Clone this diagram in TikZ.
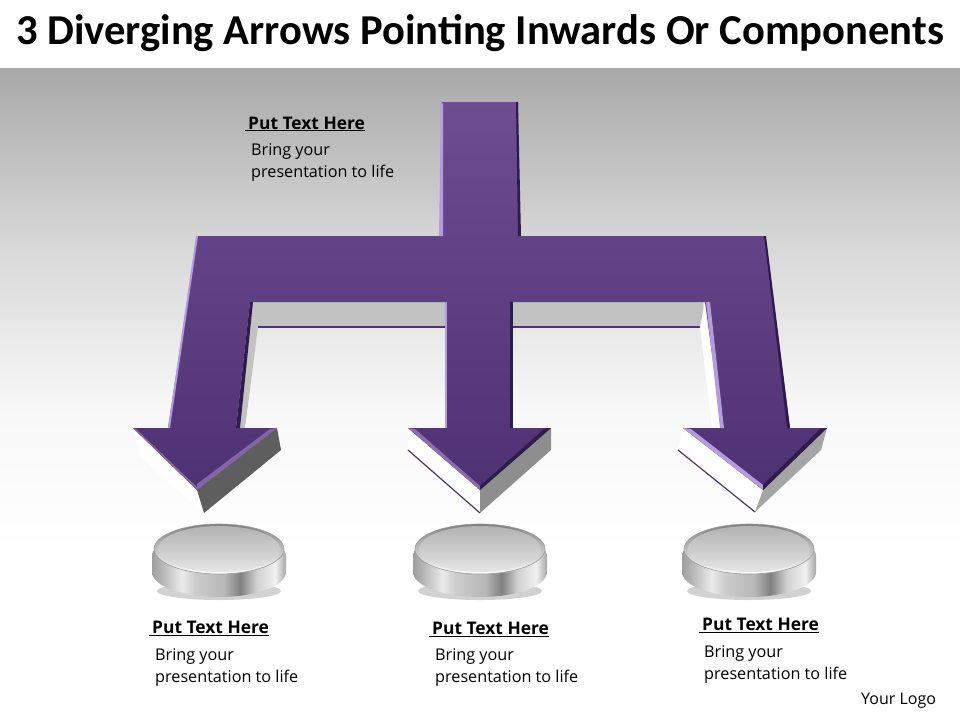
\documentclass[tikz,border=0pt]{standalone}
\usepackage{fontspec}
\setmainfont{Carlito}
\newfontfamily\labelfont{Open Sans}
\definecolor{arrowtop}{HTML}{6E4D92}
\definecolor{arrowlow}{HTML}{4E3173}
\definecolor{edgelight}{HTML}{B49BE0}
\definecolor{edgedark}{HTML}{2E1C4E}
\definecolor{sidedark}{HTML}{5E5E5E}
\definecolor{sidegrey}{HTML}{C2C2C2}
\pgfdeclareverticalshading{slideback}{100bp}{
  color(0bp)=(white); color(38bp)=(white); color(49bp)=(white!97!black);
  color(62bp)=(white!84!black); color(75bp)=(white!66!black); color(100bp)=(white!66!black)}
\pgfdeclarehorizontalshading{discside}{100bp}{
  color(0bp)=(white!62!black); color(25bp)=(white!62!black); color(29bp)=(white!72!black);
  color(36bp)=(white!92!black); color(41bp)=(white!80!black);
  color(52bp)=(white!72!black); color(58bp)=(white!50!black);
  color(64bp)=(white!82!black); color(71bp)=(white!94!black);
  color(75bp)=(white!65!black); color(100bp)=(white!65!black)}
\tikzset{
  headtext/.style={anchor=west,inner sep=0pt,font=\labelfont\bfseries\fontsize{17.4}{20}\selectfont},
  bodytext/.style={anchor=north west,inner sep=0pt,align=left,font=\labelfont\fontsize{16.2}{22.7}\selectfont},
  whiteside/.style={fill=white},
  greyside/.style={fill=sidegrey},
  darkside/.style={fill=sidedark},
  lightedge/.style={fill=edgelight},
  darkedge/.style={fill=edgedark},
  darkline/.style={draw=arrowlow,line width=1.2pt},
  discrim/.style={top color=white!50!black,bottom color=white,draw=white!60!black,line width=.6pt},
  disctop/.style={top color=white!70!black,bottom color=white!90!black},
  discshadow/.style={fill=white!82!black},
}
\begin{document}
\begin{tikzpicture}[x=1pt,y=-1pt]
  \useasboundingbox (0,0) rectangle (960,720);
  \fill[white] (0,0) rectangle (960,720);
  \shade[shading=slideback] (0,68) rectangle (960,720);
  \node (title) at (480,33) {\bfseries\fontsize{42.6}{48}\selectfont 3 Diverging Arrows Pointing Inwards Or Components};

  % grey underside of the bar
  \fill[greyside] (250,302) -- (703,302) -- (703,327) -- (258,327) -- cycle;
  \fill[greyside] (250,302) -- (258,327) -- (245,428) -- (236,428) -- cycle;
  \fill[whiteside] (705,302) -- (700,327) -- (712,428) -- (722,428) -- cycle;
  \draw[darkline] (258,327) -- (446,327);
  \draw[darkline] (512,327) -- (700,327);

  % sides of the heads
  \fill[whiteside] (133,428) -- (197,490) -- (204,513) -- (140,457) -- cycle;
  \fill[darkside] (277,428) -- (281,450) -- (204,513) -- (197,490) -- cycle;
  \fill[whiteside] (408,428) -- (480,490) -- (480,513) -- (408,450) -- cycle;
  \fill[sidedark!70!white] (551,428) -- (551,450) -- (480,513) -- (480,490) -- cycle;
  \draw[darkline] (408,450) -- (480,513);
  \fill[whiteside] (683,428) -- (763,490) -- (755,512) -- (678,450) -- cycle;
  \fill[sidegrey!85!black] (827,428) -- (821,450) -- (755,512) -- (763,490) -- cycle;
  \draw[darkline] (678,450) -- (755,512);

  % purple face
  \shade[top color=arrowtop,bottom color=arrowlow]
    (441,102) -- (518,102) -- (518,236) -- (765,236) -- (790,428) -- (827,428) -- (763,490)
    -- (683,428) -- (722,428) -- (705,302) -- (512,302) -- (512,428) -- (551,428)
    -- (480,490) -- (408,428) -- (446,428) -- (446,302) -- (250,302) -- (236,428)
    -- (277,428) -- (197,490) -- (133,428) -- (168,428) -- (197,236) -- (441,236) -- cycle;

  % bevel edges
  \fill[lightedge] (441,102) -- (443,104) -- (443,236) -- (439,236) -- cycle;
  \fill[darkedge] (516,102) -- (518,102) -- (521,236) -- (518,236) -- cycle;
  \fill[lightedge] (196,236) -- (198,236) -- (170,428) -- (168,428) -- cycle;
  \fill[darkedge] (250,302) -- (253,302) -- (240,428) -- (236,428) -- cycle;
  \fill[lightedge] (445,302) -- (447,302) -- (447,428) -- (445,428) -- cycle;
  \fill[darkedge] (510,302) -- (513,302) -- (513,428) -- (510,428) -- cycle;
  \fill[lightedge] (706,302) -- (710,302) -- (724,428) -- (720,428) -- cycle;
  \fill[darkedge] (764,236) -- (766,236) -- (790,428) -- (787,428) -- cycle;
  \fill[arrowtop!70!edgelight] (136,429) -- (197,487) -- (197,490) -- (133,428) -- cycle;
  \fill[arrowtop!70!edgelight] (277,428) -- (270,429) -- (197,484) -- (197,490) -- cycle;
  \fill[arrowtop!60!edgelight] (408,428) -- (480,490) -- (480,486) -- (415,429) -- cycle;
  \fill[edgedark] (551,428) -- (480,490) -- (480,486) -- (544,429) -- cycle;
  \fill[lightedge] (683,428) -- (763,490) -- (763,485) -- (691,429) -- cycle;
  \fill[edgedark] (827,428) -- (763,490) -- (763,485) -- (820,429) -- cycle;

  % discs
  \fill[discshadow] (219,591) ellipse (62 and 9);
  \shade[shading=discside] (152,556) -- (152,572) arc (180:0:67 and 25) -- (286,556) arc (0:-180:67 and 24) -- cycle;
  \shade[discrim] (219,549) ellipse (65 and 25);
  \shade[disctop] (219,549) ellipse (61 and 23);
  \fill[discshadow] (480,591) ellipse (62 and 9);
  \shade[shading=discside] (413,556) -- (413,572) arc (180:0:67 and 25) -- (547,556) arc (0:-180:67 and 24) -- cycle;
  \shade[discrim] (480,549) ellipse (65 and 25);
  \shade[disctop] (480,549) ellipse (61 and 23);
  \fill[discshadow] (749,591) ellipse (62 and 9);
  \shade[shading=discside] (682,556) -- (682,572) arc (180:0:67 and 25) -- (816,556) arc (0:-180:67 and 24) -- cycle;
  \shade[discrim] (749,549) ellipse (65 and 25);
  \shade[disctop] (749,549) ellipse (61 and 23);

  % texts
  \node[headtext] (headA) at (245,124) {\underline{\hspace{3pt}Put Text Here}};
  \node[bodytext] (bodyA) at (251,143) {Bring your\\presentation to life};
  \node[headtext] (headB) at (149,628) {\underline{\hspace{3pt}Put Text Here}};
  \node[bodytext] (bodyB) at (155,648) {Bring your\\presentation to life};
  \node[headtext] (headC) at (429,629) {\underline{\hspace{3pt}Put Text Here}};
  \node[bodytext] (bodyC) at (435,648) {Bring your\\presentation to life};
  \node[headtext] (headD) at (699,625) {\underline{\hspace{3pt}Put Text Here}};
  \node[bodytext] (bodyD) at (704,645) {Bring your\\presentation to life};
  \node[anchor=west,inner sep=0pt,font=\labelfont\fontsize{16}{18}\selectfont] (logo) at (861,701) {Your Logo};
\end{tikzpicture}
\end{document}
